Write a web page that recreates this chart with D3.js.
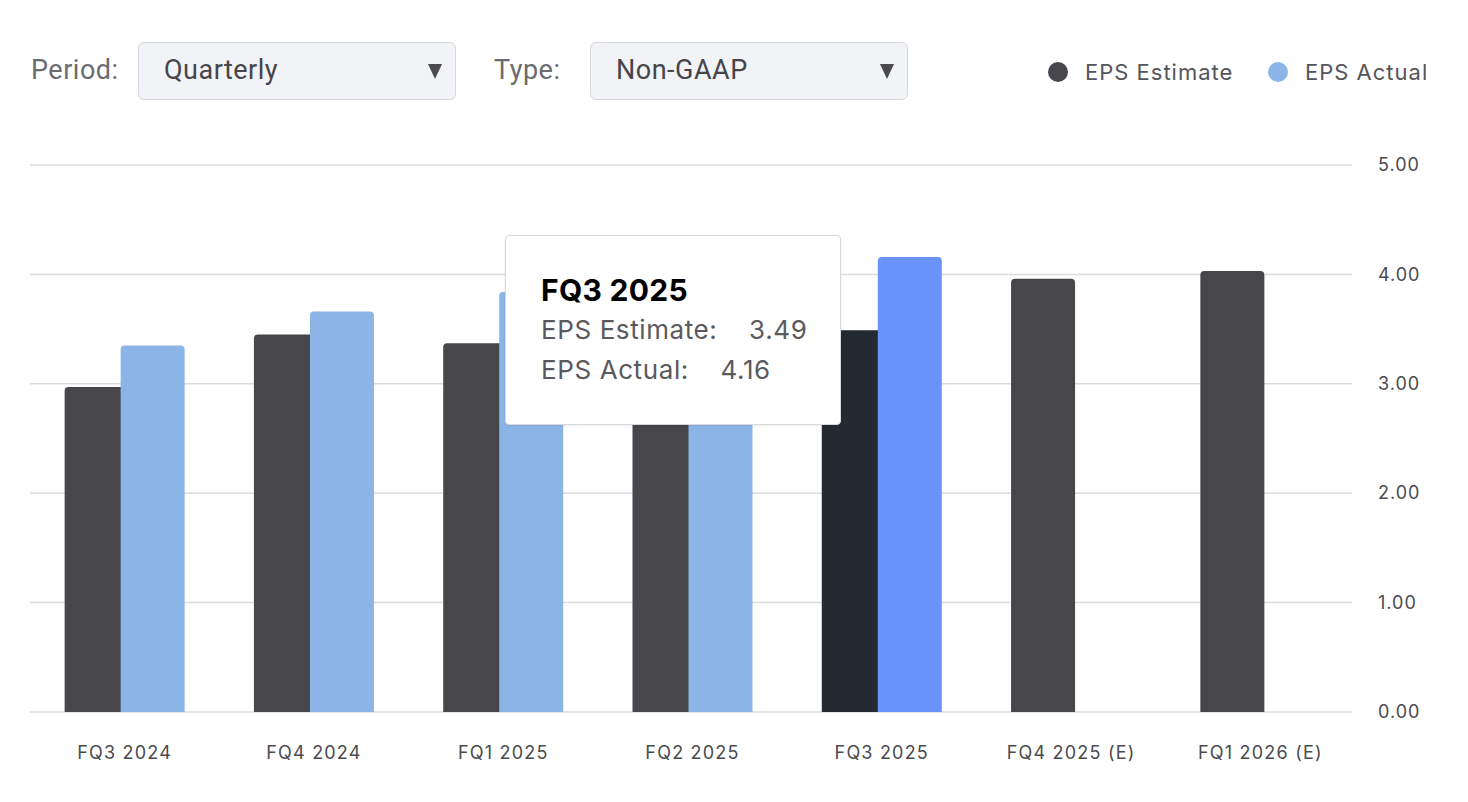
<!DOCTYPE html>
<html>
<head>
<meta charset="utf-8">
<script src="https://cdn.jsdelivr.net/npm/d3@7"></script>
<style>
  html, body { margin: 0; padding: 0; background: #fff; }
  body { width: 1468px; height: 802px; overflow: hidden; position: relative; font-family: Inter, "Noto Sans", sans-serif; }
  .ctrl-label { position: absolute; top: 54px; font-size: 27px; letter-spacing: 0.5px; color: #6b6b70; font-family: Roboto, Inter, sans-serif; line-height: 32px; }
  .select { position: absolute; top: 42px; height: 58px; width: 318px; box-sizing: border-box;
            background: #f2f3f7; border: 1.5px solid #d6d7db; border-radius: 6px; }
  .select span { position: absolute; left: 25px; top: 11px; font-size: 27px; letter-spacing: 0.5px; line-height: 32px; color: #45454a; font-family: Roboto, Inter, sans-serif; }
  .select i { position: absolute; right: 13px; top: 21px; width: 0; height: 0;
              border-left: 7px solid transparent; border-right: 7px solid transparent; border-top: 15px solid #4a4a4f; }
  .tooltip { position: absolute; left: 505px; top: 235px; width: 336px; height: 190px; box-sizing: border-box;
             background: #fff; border: 1.5px solid #d9d9dc; border-radius: 4px; box-shadow: 0 1px 3px rgba(0,0,0,0.08); }
  .tooltip .title { position: absolute; left: 35px; top: 36px; font-size: 30px; font-weight: 700; color: #000; letter-spacing: 0.3px; }
  .tooltip .row { position: absolute; left: 35px; font-size: 26px; letter-spacing: 0.6px; color: #5a5a5e; white-space: pre; }
</style>
</head>
<body>
<div class="ctrl-label" style="left:31px">Period:</div>
<div class="select" style="left:138px"><span>Quarterly</span><i></i></div>
<div class="ctrl-label" style="left:494px">Type:</div>
<div class="select" style="left:590px"><span>Non-GAAP</span><i></i></div>
<svg id="svg" width="1468" height="802" style="position:absolute;left:0;top:0"></svg>
<div class="tooltip" id="tip"></div>
<script>
// quarters and EPS values (FQ2 2025 hidden behind the tooltip in the source, estimated)
const quarters = ["FQ3 2024", "FQ4 2024", "FQ1 2025", "FQ2 2025", "FQ3 2025", "FQ4 2025 (E)", "FQ1 2026 (E)"];
const epsEstimate = [2.97, 3.45, 3.37, 3.40, 3.49, 3.96, 4.03];
const epsActual = [3.35, 3.66, 3.84, 3.72, 4.16, null, null];
const yTicks = [0, 1, 2, 3, 4, 5];
const hovered = "FQ3 2025";

const svg = d3.select("#svg");

const x = d3.scaleBand().domain(quarters).range([30, 1355]).padding(0);
const y = d3.scaleLinear().domain([0, 5]).range([712, 165]);

const barW = 64, overlap = 8;
const groupOffset = (x.bandwidth() - (2 * barW - overlap)) / 2;

// grid lines
svg.append("g")
  .selectAll("line")
  .data(yTicks)
  .join("line")
    .attr("x1", 30)
    .attr("x2", 1352)
    .attr("y1", d => y(d))
    .attr("y2", d => y(d))
    .attr("stroke", "#dcdcdf")
    .attr("stroke-width", 1.5);

// y axis on the right
const yAxis = svg.append("g")
  .attr("transform", "translate(1378,0)")
  .call(d3.axisRight(y).tickValues(yTicks).tickSize(0).tickPadding(0).tickFormat(d3.format(".2f")));
yAxis.select(".domain").remove();
yAxis.selectAll("text")
  .attr("font-family", "Inter, sans-serif")
  .attr("font-size", 18)
  .attr("letter-spacing", 1)
  .attr("fill", "#4a4a4f");

// top-rounded bar path
function topRounded(x0, y0, w, h, r) {
  r = Math.min(r, h);
  return `M${x0},${y0 + h}V${y0 + r}Q${x0},${y0} ${x0 + r},${y0}H${x0 + w - r}Q${x0 + w},${y0} ${x0 + w},${y0 + r}V${y0 + h}Z`;
}

const rows = quarters.map((q, i) => ({ q, est: epsEstimate[i], act: epsActual[i] }));

const groups = svg.append("g")
  .selectAll("g")
  .data(rows)
  .join("g");

groups.append("path")
  .attr("d", d => topRounded(x(d.q) + groupOffset, y(d.est), barW, y(0) - y(d.est), 4))
  .attr("fill", d => d.q === hovered ? "#242a31" : "#46464b");

groups.filter(d => d.act != null)
  .append("path")
  .attr("d", d => topRounded(x(d.q) + groupOffset + barW - overlap, y(d.act), barW, y(0) - y(d.act), 4))
  .attr("fill", d => d.q === hovered ? "#6894f9" : "#8bb4e7");

// x axis labels
const xAxis = svg.append("g")
  .attr("transform", "translate(0,746)")
  .call(d3.axisBottom(x).tickSize(0).tickPadding(0));
xAxis.select(".domain").remove();
xAxis.selectAll("text")
  .attr("font-family", "Inter, sans-serif")
  .attr("font-size", 18)
  .attr("letter-spacing", 1.2)
  .attr("fill", "#4a4a4f");

// legend
const legendItems = [
  { label: "EPS Estimate", color: "#46464b", cx: 1058 },
  { label: "EPS Actual", color: "#8bb4e7", cx: 1278 }
];
const legend = svg.append("g")
  .selectAll("g")
  .data(legendItems)
  .join("g")
    .attr("transform", d => `translate(${d.cx},72)`);
legend.append("circle").attr("r", 10).attr("fill", d => d.color);
legend.append("text")
  .attr("x", 27)
  .attr("dy", "0.35em")
  .attr("font-family", "Inter, sans-serif")
  .attr("font-size", 22)
  .attr("letter-spacing", 1)
  .attr("fill", "#55555a")
  .text(d => d.label);

// tooltip for hovered quarter
const hi = quarters.indexOf(hovered);
const tip = d3.select("#tip");
tip.append("div").attr("class", "title").text(hovered);
tip.append("div").attr("class", "row").style("top", "78px").text("EPS Estimate:    " + epsEstimate[hi].toFixed(2));
tip.append("div").attr("class", "row").style("top", "118px").text("EPS Actual:    " + epsActual[hi].toFixed(2));
</script>
</body>
</html>
